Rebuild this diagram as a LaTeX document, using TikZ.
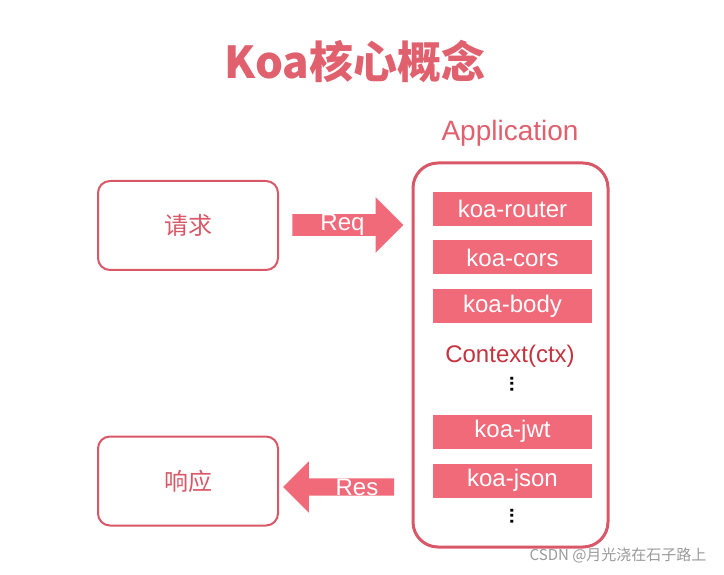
\documentclass[tikz,border=0pt]{standalone}
\usepackage{fontspec}
\setmainfont{Liberation Sans}
\newfontfamily\cjk{Noto Sans CJK SC}
\usetikzlibrary{shapes.arrows}
\definecolor{kred}{HTML}{E0606E}
\definecolor{mod}{HTML}{F06A7A}
\definecolor{ctx}{HTML}{C43440}
\definecolor{brd}{HTML}{D85868}
\begin{document}
\begin{tikzpicture}[x=1pt,y=-1pt,
  mod/.style={fill=mod,minimum width=159pt,minimum height=34pt,inner sep=0pt,text=white,font=\fontsize{24}{24}\selectfont},
  box/.style={draw=brd,line width=2pt,rounded corners=12pt,minimum width=180pt,minimum height=89pt,font=\cjk\fontsize{24}{24}\selectfont,text=brd},
  arr/.style={fill=mod,single arrow,single arrow head extend=17pt,minimum height=111pt,minimum width=36pt,inner sep=0pt,text=white,font=\fontsize{24}{24}\selectfont}]
\useasboundingbox[fill=white] (0,0) rectangle (724,575);
\node[font=\cjk\bfseries\fontsize{44}{44}\selectfont,text=kred] (title) at (355,62) {Koa核心概念};
\node[font=\fontsize{28}{28}\selectfont,text=kred] (applabel) at (510,133) {Application};
\node[draw=brd,line width=3pt,rounded corners=25pt,minimum width=195pt,minimum height=384pt] (app) at (510.5,355) {};
\node[box] (req) at (188,225.5) {请求};
\node[box] (res) at (188,481) {响应};
\node[arr] (reqa) at (342.5,225) {Req\hspace{28pt}};
\node[arr,shape border rotate=180] (resa) at (343,487) {\hspace{28pt}Res};
\node[mod] (m1) at (512.5,209) {koa-router};
\node[mod] (m2) at (512.5,257.5) {koa-cors};
\node[mod] (m3) at (512.5,306.5) {koa-body};
\node[text=ctx,font=\fontsize{24}{24}\selectfont] (c) at (510,356) {Context(ctx)};
\node[font=\bfseries\fontsize{20}{20}\selectfont] (d1) at (512,384) {\rotatebox{90}{...}};
\node[mod] (m4) at (512.5,431.5) {koa-jwt};
\node[mod] (m5) at (512.5,480.5) {koa-json};
\node[font=\bfseries\fontsize{20}{20}\selectfont] (d2) at (512,516) {\rotatebox{90}{...}};
\node[text=gray!80,font=\cjk\fontsize{15}{15}\selectfont,anchor=east] (wm) at (710,555) {CSDN @月光浇在石子路上};
\end{tikzpicture}
\end{document}
